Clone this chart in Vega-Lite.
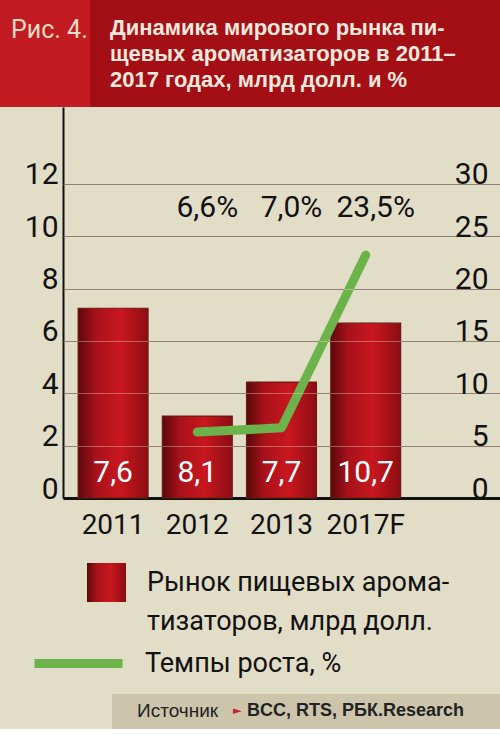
{
  "$schema": "https://vega.github.io/schema/vega-lite/v6.json",
  "background": "#e2ddc7",
  "padding": 0,
  "spacing": 155,
  "config": {
    "view": {"stroke": null},
    "font": "Roboto",
    "text": {"font": "Roboto"},
    "style": {"guide-label": {"lineHeight": 39}}
  },
  "vconcat": [
    {
      "spacing": 0,
      "vconcat": [
        {
          "spacing": 0,
          "hconcat": [
            {
              "width": 90, "height": 107,
              "data": {"values": []},
              "mark": "point",
              "view": {"fill": "#c31b22", "stroke": null},
              "title": {
                "text": "Рис. 4.", "orient": "bottom", "anchor": "start", "frame": "group",
                "baseline": "top", "offset": -89, "dx": 11,
                "font": "Roboto", "fontSize": 25, "fontWeight": "normal", "color": "#f4dcc4"
              }
            },
            {
              "width": 410, "height": 107,
              "data": {"values": []},
              "mark": "point",
              "view": {"fill": "#a40f16", "stroke": null},
              "title": {
                "text": ["Динамика мирового рынка пи-", "щевых ароматизаторов в 2011–", "2017 годах, млрд долл. и %"],
                "orient": "bottom", "anchor": "start", "frame": "group",
                "baseline": "top", "offset": -89, "dx": 20, "lineHeight": 26,
                "font": "Liberation Sans", "fontSize": 22, "fontWeight": "bold", "color": "#f7e8de"
              }
            }
          ]
        },
        {
          "spacing": 0,
          "hconcat": [
            {"width": 1, "height": 10, "data": {"values": []}, "mark": "point"},
            {
              "width": 437,
              "height": 391,
              "data": {
                "values": [
                  {"year": "2011", "market": 7.25, "marketLabel": "7,6", "growth": null, "growthLabel": null, "s1": "Рынок пищевых арома-|тизаторов, млрд долл.", "s2": "Темпы роста, %"},
                  {"year": "2012", "market": 3.13, "marketLabel": "8,1", "growth": 6.3, "growthLabel": "6,6%", "s1": "Рынок пищевых арома-|тизаторов, млрд долл.", "s2": "Темпы роста, %"},
                  {"year": "2013", "market": 4.43, "marketLabel": "7,7", "growth": 6.7, "growthLabel": "7,0%", "s1": "Рынок пищевых арома-|тизаторов, млрд долл.", "s2": "Темпы роста, %"},
                  {"year": "2017F", "market": 6.68, "marketLabel": "10,7", "growth": 23.2, "growthLabel": "23,5%", "s1": "Рынок пищевых арома-|тизаторов, млрд долл.", "s2": "Темпы роста, %"}
                ]
              },
              "layer": [
                {
                  "layer": [
                    {
                      "mark": {
                        "type": "bar", "stroke": "#6b1a14", "strokeWidth": 1.2,
                        "fill": {"gradient": "linear", "x1": 0, "y1": 0, "x2": 1, "y2": 0, "stops": [{"offset": 0, "color": "#5a090b"}, {"offset": 0.25, "color": "#a8111a"}, {"offset": 0.6, "color": "#c9171f"}, {"offset": 1, "color": "#8c0d13"}]}
                      },
                      "encoding": {
                        "x": {
                          "field": "year", "type": "nominal", "sort": null,
                          "scale": {"domain": ["2011", "2012", "2013", "2017F", " "], "paddingInner": 0.17, "paddingOuter": 0.18},
                          "axis": {
                            "title": null, "labelAngle": 0, "ticks": false, "grid": false,
                            "domainColor": "#111111", "domainWidth": 3,
                            "labelFont": "Roboto", "labelFontSize": 28, "labelColor": "#111111",
                            "labelPadding": 13
                          }
                        },
                        "y": {
                          "field": "market", "type": "quantitative",
                          "scale": {"domain": [0, 14.94], "nice": false},
                          "axis": {
                            "title": null, "values": [0, 2, 4, 6, 8, 10, 12],
                            "domainColor": "#111111", "domainWidth": 2, "ticks": false,
                            "grid": true, "gridColor": "#4e4b43", "gridWidth": 1.2,
                            "labelFont": "Roboto", "labelFontSize": 30, "labelColor": "#111111",
                            "labelPadding": 5, "labelBaseline": "alphabetic",
                            "minExtent": 62, "maxExtent": 62
                          }
                        },
                        "opacity": {
                          "field": "s1", "type": "nominal",
                          "scale": {"range": [1]},
                          "legend": {
                            "orient": "none", "legendX": 86, "legendY": 562, "title": null, "padding": 0,
                            "symbolType": "square", "symbolSize": 1521, "symbolStrokeColor": "#d6bc9e", "symbolStrokeWidth": 2,
                            "labelFont": "Roboto", "labelFontSize": 27, "labelColor": "#111111",
                            "labelOffset": 20, "labelLimit": 0, "labelExpr": "split(datum.label, '|')"
                          }
                        }
                      }
                    },
                    {
                      "mark": {"type": "text", "color": "#ffffff", "fontSize": 30, "baseline": "middle"},
                      "encoding": {
                        "x": {"field": "year", "type": "nominal", "sort": null},
                        "y": {"datum": 0.95},
                        "text": {"field": "marketLabel"}
                      }
                    }
                  ]
                },
                {
                  "transform": [{"filter": "datum.growth != null"}],
                  "layer": [
                    {
                      "mark": {"type": "line", "strokeWidth": 9, "strokeCap": "round", "strokeJoin": "round"},
                      "encoding": {
                        "x": {"field": "year", "type": "nominal", "sort": null},
                        "y": {
                          "field": "growth", "type": "quantitative",
                          "scale": {"domain": [0, 37.35], "nice": false},
                          "axis": {
                            "orient": "right", "title": null, "values": [0, 5, 10, 15, 20, 25, 30],
                            "domain": false, "ticks": false,
                            "grid": true, "gridColor": "#f6d0c4", "gridWidth": 1.2,
                            "gridOpacity": {"condition": {"test": "datum.value == 0", "value": 0}, "value": 0.4},
                            "zindex": 1,
                            "labelFont": "Roboto", "labelFontSize": 30, "labelColor": "#111111",
                            "labelAlign": "right", "labelPadding": -12, "labelBaseline": "alphabetic",
                            "minExtent": 0, "maxExtent": 0
                          }
                        },
                        "stroke": {
                          "field": "s2", "type": "nominal",
                          "scale": {"range": ["#6db34c"]},
                          "legend": {
                            "orient": "none", "legendX": 64, "legendY": 649, "title": null, "padding": 0,
                            "symbolType": "M-4.4,0H4.4", "symbolSize": 400, "symbolStrokeWidth": 9,
                            "labelFont": "Roboto", "labelFontSize": 27, "labelColor": "#111111",
                            "labelOffset": 52, "labelLimit": 0
                          }
                        }
                      }
                    },
                    {
                      "mark": {"type": "text", "color": "#111111", "fontSize": 30, "baseline": "middle", "dx": 10},
                      "encoding": {
                        "x": {"field": "year", "type": "nominal", "sort": null},
                        "y": {"datum": 27.7},
                        "text": {"field": "growthLabel"}
                      }
                    }
                  ]
                }
              ],
              "resolve": {"scale": {"y": "independent"}}
            }
          ]
        }
      ]
    },
    {
      "spacing": 0,
      "hconcat": [
        {"width": 112, "height": 35, "data": {"values": []}, "mark": "point"},
        {
          "width": 121, "height": 35, "data": {"values": []}, "mark": "point",
          "view": {"fill": "#ccc5ac", "stroke": null},
          "title": {"text": "Источник", "orient": "bottom", "anchor": "start", "frame": "group", "baseline": "top", "offset": -27, "dx": 25, "font": "Liberation Sans", "fontSize": 19, "fontWeight": "normal", "color": "#222222"}
        },
        {
          "width": 14, "height": 35, "data": {"values": []}, "mark": "point",
          "view": {"fill": "#ccc5ac", "stroke": null},
          "title": {"text": "►", "orient": "bottom", "anchor": "start", "frame": "group", "baseline": "top", "offset": -24, "dx": 0, "font": "DejaVu Sans", "fontSize": 11, "fontWeight": "normal", "color": "#c8202a"}
        },
        {
          "width": 253, "height": 35, "data": {"values": []}, "mark": "point",
          "view": {"fill": "#ccc5ac", "stroke": null},
          "title": {"text": "BCC, RTS, РБК.Research", "orient": "bottom", "anchor": "start", "frame": "group", "baseline": "top", "offset": -27, "dx": 0, "font": "Liberation Sans", "fontSize": 18, "fontWeight": "bold", "color": "#222222"}
        }
      ]
    }
  ]
}
